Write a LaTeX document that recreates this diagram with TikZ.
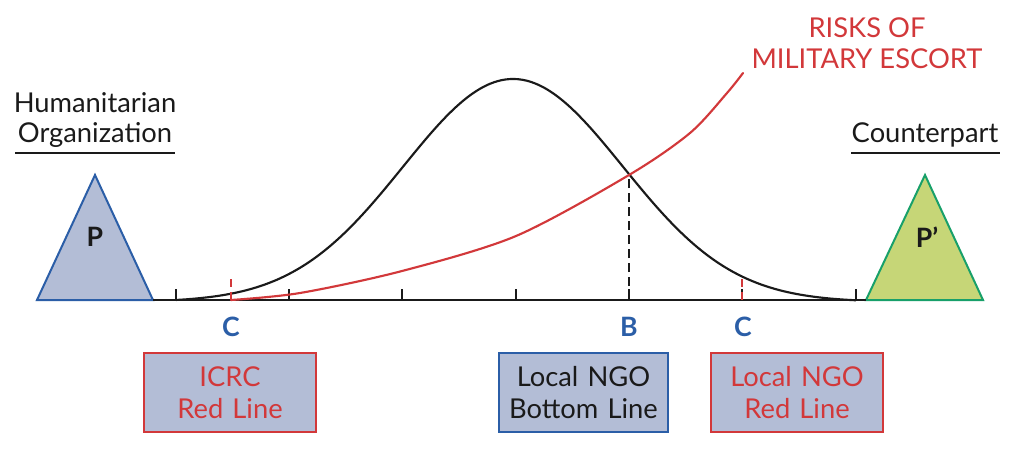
\documentclass[tikz,border=0pt]{standalone}
\usepackage{fontspec}
\setmainfont{Lato}
\definecolor{myblue}{HTML}{2B5EA7}
\definecolor{myred}{HTML}{D2383A}
\definecolor{boxfill}{HTML}{B3BDD6}
\definecolor{greenfill}{HTML}{C6D677}
\definecolor{greenline}{HTML}{18A06A}
\definecolor{ink}{HTML}{1A1A1A}
\begin{document}
\begin{tikzpicture}[x=0.75pt,y=-0.75pt,
  lbl/.style={font=\fontsize{20.5}{24}\selectfont, text=ink, align=center, inner sep=0pt},
  redlbl/.style={font=\fontsize{20.5}{24}\selectfont, text=myred, align=center, inner sep=0pt},
  letter/.style={font=\fontsize{20}{24}\selectfont\bfseries, text=myblue, inner sep=0pt},
  plbl/.style={font=\fontsize{20}{24}\selectfont\bfseries, text=ink, inner sep=0pt},
  linebox/.style={draw=#1, line width=1.4pt, fill=boxfill, inner sep=0pt,
     font=\fontsize{20.5}{24}\selectfont, align=center, minimum height=59.25pt, text width=125pt},
  axisline/.style={ink, line width=1.5pt},
  tick/.style={ink, line width=1.5pt},
  curve/.style={line width=1.6pt}
]
\useasboundingbox (0,0) rectangle (1024,465);

% triangles
\coordinate (pl1) at (37,300); \coordinate (pl2) at (153,300); \coordinate (pltop) at (95,175);
\coordinate (pr1) at (866,300); \coordinate (pr2) at (983,300); \coordinate (prtop) at (925,175);
\draw[fill=boxfill, draw=myblue, line width=1.5pt, line join=miter] (pl1) -- (pltop) -- (pl2) -- cycle;
\draw[fill=greenfill, draw=greenline, line width=1.5pt, line join=miter] (pr1) -- (prtop) -- (pr2) -- cycle;
\node[plbl] (P) at (95,237) {P};
\node[plbl] (Pp) at (927,237) {P’};

% headings
\node[lbl, anchor=base] (hum) at (95,112) {Humanitarian};
\node[lbl, anchor=base] (org) at (95,142) {Organization};
\draw[ink, line width=1.4pt] (15,153) -- (175,153);
\node[lbl, anchor=base] (cp) at (925,142) {Counterpart};
\draw[ink, line width=1.4pt] (851,153) -- (1000,153);

% axis
\draw[axisline] (pl2) -- (pr1);
\foreach \t in {176,289,402,516,629,742,856}
  \draw[tick] (\t,300) -- (\t,289);

% bell curve
\draw[ink, curve, line join=round] plot[domain=176:856, samples=160, smooth]
  (\x, {300-223*(exp(-0.5*((\x-513)/110)*((\x-513)/110))-0.009)});

% dashed markers
\draw[ink, line width=1.5pt, dash pattern=on 7pt off 3.5pt] (629,300) -- (629,175);
\draw[myred, line width=1.3pt, dash pattern=on 6pt off 4pt] (231,300) -- (231,278);
\draw[myred, line width=1.3pt, dash pattern=on 6pt off 4pt] (742,300) -- (742,275);

% red risk curve
\draw[myred, curve, line cap=round] plot[smooth, tension=0.5] coordinates {
  (231,300) (300,293) (402,271) (516,236) (629,175) (690,133) (727,93) (743,73)};

% risks label
\node[redlbl, anchor=base] (risk1) at (867,37) {RISKS OF};
\node[redlbl, anchor=base] (risk2) at (867,68) {MILITARY ESCORT};

% letters
\node[letter] (c1) at (231,327) {C};
\node[letter] (b) at (629,327) {B};
\node[letter] (c2) at (743,327) {C};

% boxes
\node[linebox=myred, text=myred, minimum width=129pt] (icrc) at (230,392.5) {ICRC\\Red Line};
\node[linebox=myblue, text=ink, minimum width=127pt] (bottom) at (583.5,392.5) {Local NGO\\Bottom Line};
\node[linebox=myred, text=myred, minimum width=129pt] (ngored) at (797,392.5) {Local NGO\\Red Line};
\end{tikzpicture}
\end{document}
